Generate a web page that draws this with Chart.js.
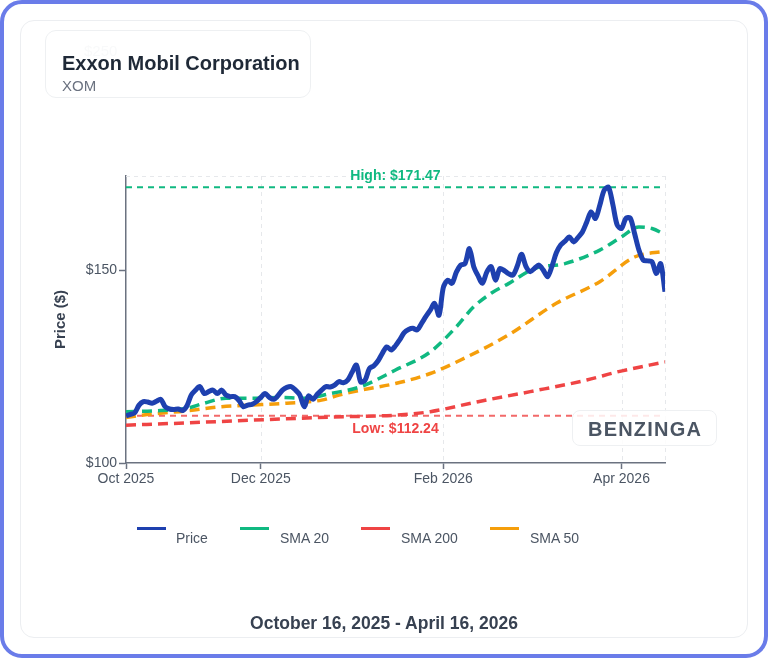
<!DOCTYPE html>
<html>
<head>
<meta charset="utf-8">
<script src="https://cdn.jsdelivr.net/npm/chart.js@4.4.1/dist/chart.umd.min.js"></script>
<style>
  html, body { margin: 0; padding: 0; background: #fff; }
  body { width: 768px; height: 658px; position: relative; overflow: hidden; font-family: "Liberation Sans", Arial, sans-serif; }
  .frame { position: absolute; left: 0; top: 0; width: 760px; height: 650px; border: 4px solid #6a7ce9; border-radius: 22px; }
  .card { position: absolute; left: 20px; top: 20px; width: 726px; height: 616px; border: 1px solid #eceef1; border-radius: 14px; }
  #chart { position: absolute; left: 0; top: 0; }
  .ghost { position: absolute; left: 84px; top: 42px; font-size: 15px; color: #eef0f2; }
  .head { position: absolute; left: 45px; top: 30px; width: 264px; height: 66px; border: 1px solid #eef0f2; border-radius: 11px; background: rgba(255,255,255,0.6); }
  .head .t { position: absolute; left: 16px; top: 21px; font-size: 20px; font-weight: bold; color: #1f2937; white-space: nowrap; }
  .head .s { position: absolute; left: 16px; top: 46px; font-size: 15px; color: #6b7280; }
  .mark { position: absolute; left: 572px; top: 410px; width: 143px; height: 34px; border: 1px solid #eef0f2; border-radius: 8px; background: rgba(255,255,255,0.85); }
  .mark span { position: absolute; left: 15px; top: 7px; font-size: 20px; font-weight: bold; color: #4b5563; letter-spacing: 1.2px; }
  .legend { position: absolute; top: 522px; left: 0; width: 768px; height: 30px; }
  .legend .item { position: absolute; top: 0; }
  .legend .line { position: absolute; top: 5px; left: 0; width: 29px; height: 3px; }
  .legend .lab { position: absolute; top: 8px; font-size: 14px; color: #4b5563; white-space: nowrap; }
  .foot { position: absolute; left: 0; width: 768px; top: 613px; text-align: center; font-size: 17.5px; font-weight: bold; color: #374151; }
</style>
</head>
<body>
<div class="frame"></div>
<div class="card"></div>
<canvas id="chart" width="768" height="658"></canvas>
<div class="ghost">$250</div>
<div class="head"><div class="t">Exxon Mobil Corporation</div><div class="s">XOM</div></div>
<div class="mark"><span>BENZINGA</span></div>
<div class="legend" id="legend"></div>
<div class="foot">October 16, 2025 - April 16, 2026</div>

<script>
// trading day index 0 = Oct 16 2025, 124 = Apr 16 2026
var tickDays = [0, 31, 73, 114];
var tickLabels = ["Oct 2025", "Dec 2025", "Feb 2026", "Apr 2026"];

var price = [
  112.24, 112.6, 113.0, 115.0, 115.9, 115.8, 115.5, 116.0, 116.5, 114.6,
  114.0, 113.9, 114.0, 113.6, 114.8, 117.6, 118.9, 119.8, 118.0, 118.5,
  118.9, 118.0, 118.9, 117.6, 117.2, 117.2, 116.2, 114.6, 115.0, 115.2,
  115.9, 117.0, 118.0, 117.0, 116.5, 117.5, 118.9, 119.6, 119.8, 118.9,
  117.6, 114.6, 117.4, 116.5, 117.8, 118.9, 119.8, 119.7, 120.2, 121.1,
  120.8, 121.5, 123.5, 125.4, 121.0, 121.5, 124.5, 125.2, 126.5, 128.5,
  130.1, 129.3, 130.4, 132.0, 133.8, 134.6, 134.9, 134.5, 136.2, 138.0,
  139.6, 141.4, 138.3, 145.5, 147.4, 146.6, 149.5, 151.3, 151.7, 155.6,
  150.9, 148.5, 146.6, 149.5, 150.9, 147.4, 150.4, 149.9, 149.1, 148.7,
  151.0, 154.1, 151.0, 149.6, 150.5, 151.3, 150.0, 148.3, 151.0, 154.5,
  156.5, 157.5, 158.6, 157.3, 158.5, 159.9, 162.5, 165.1, 163.4, 166.8,
  170.7, 171.47, 167.0, 161.7, 160.8, 163.4, 163.5, 159.5, 155.2, 152.6,
  152.4, 152.2, 149.1, 151.7, 144.4
];

var sma20Days = [0, 6, 14, 18, 23, 29, 35, 41, 47, 54, 62, 70, 76, 80, 84, 88, 94, 101, 109, 114, 118, 121, 124];
var sma20 = [113.3, 113.5, 114.2, 115.5, 116.8, 116.8, 117.0, 116.8, 118.0, 119.8, 124.1, 128.8, 135.3, 140.5, 144.0, 146.5, 150.4, 151.7, 155.2, 158.6, 161.2, 160.8, 159.2];

var sma50Days = [0, 6, 14, 22, 29, 37, 45, 49, 54, 62, 70, 77, 88, 99, 109, 117, 124];
var sma50 = [111.8, 112.7, 113.5, 114.6, 115.0, 115.5, 116.3, 117.6, 118.9, 120.6, 123.2, 126.7, 133.2, 141.4, 147.0, 153.4, 154.9];

var sma200Days = [0, 14, 29, 47, 62, 70, 81, 93, 106, 113, 124];
var sma200 = [109.8, 110.4, 111.1, 111.9, 112.4, 113.3, 115.9, 118.5, 121.5, 123.6, 126.2];

var highValue = 171.47;
var lowValue = 112.24;

var seriesNames = ["Price", "SMA 20", "SMA 200", "SMA 50"];
var seriesColors = ["#1e40af", "#10b981", "#ef4444", "#f59e0b"];

function pts(days, vals) {
  return vals.map(function (v, i) { return { x: days[i], y: v }; });
}
var priceDays = price.map(function (v, i) { return i; });
var lastDay = priceDays[priceDays.length - 1];
var fontFamily = "'Liberation Sans', Arial, sans-serif";

var refLines = {
  id: "refLines",
  beforeDatasetsDraw: function (chart) {
    var ctx = chart.ctx, a = chart.chartArea, x = chart.scales.x;
    ctx.save();
    ctx.strokeStyle = "#e6e8eb";
    ctx.lineWidth = 1;
    ctx.setLineDash([4, 4]);
    ctx.beginPath();
    tickDays.slice(1).forEach(function (d) {
      var px = Math.round(x.getPixelForValue(d)) + 0.5;
      ctx.moveTo(px, a.top); ctx.lineTo(px, a.bottom);
    });
    ctx.moveTo(a.right + 0.5, a.top); ctx.lineTo(a.right + 0.5, a.bottom);
    ctx.moveTo(a.left, a.top + 0.5); ctx.lineTo(a.right, a.top + 0.5);
    ctx.stroke();
    ctx.restore();
  },
  afterDatasetsDraw: function (chart) {
    var ctx = chart.ctx, a = chart.chartArea, y = chart.scales.y;
    var cx = (a.left + a.right) / 2;
    ctx.save();
    ctx.font = "bold 14px " + fontFamily;
    ctx.textAlign = "center";
    ctx.textBaseline = "middle";
    ctx.fillStyle = "#10b981";
    ctx.fillText("High: $" + highValue.toFixed(2), cx, y.getPixelForValue(highValue) - 11);
    ctx.fillStyle = "#ef4444";
    ctx.fillText("Low: $" + lowValue.toFixed(2), cx, y.getPixelForValue(lowValue) + 13);
    ctx.restore();
  }
};

var dashed = [10, 6];

new Chart(document.getElementById("chart"), {
  type: "line",
  data: {
    datasets: [
      { label: "Price", data: pts(priceDays, price), borderColor: seriesColors[0], borderWidth: 5, tension: 0.3, order: 0 },
      { label: "SMA 20", data: pts(sma20Days, sma20), borderColor: seriesColors[1], borderWidth: 3.5, borderDash: dashed, cubicInterpolationMode: "monotone", order: 2 },
      { label: "SMA 200", data: pts(sma200Days, sma200), borderColor: seriesColors[2], borderWidth: 3.5, borderDash: dashed, cubicInterpolationMode: "monotone", order: 4 },
      { label: "SMA 50", data: pts(sma50Days, sma50), borderColor: seriesColors[3], borderWidth: 3.5, borderDash: dashed, cubicInterpolationMode: "monotone", order: 3 },
      { label: "High", data: pts([0, lastDay], [highValue, highValue]), borderColor: "#10b981", borderWidth: 2, borderDash: [6, 5], order: 5 },
      { label: "Low", data: pts([0, lastDay], [lowValue, lowValue]), borderColor: "rgba(239,68,68,0.8)", borderWidth: 2, borderDash: [6, 5], order: 6 }
    ]
  },
  options: {
    responsive: false,
    animation: false,
    layout: { padding: { left: 52, top: 176, right: 103, bottom: 165 } },
    elements: { point: { radius: 0 } },
    plugins: { legend: { display: false }, tooltip: { enabled: false } },
    scales: {
      x: {
        type: "linear",
        min: 0,
        max: lastDay,
        afterBuildTicks: function (s) { s.ticks = tickDays.map(function (d) { return { value: d }; }); },
        afterFit: function (s) { s.height = 30; },
        ticks: {
          padding: 2,
          color: "#4b5563",
          font: { size: 14, family: fontFamily },
          maxRotation: 0,
          autoSkip: false,
          callback: function (v) { return tickLabels[tickDays.indexOf(v)]; }
        },
        grid: { drawOnChartArea: false, tickLength: 6, tickColor: "#6b7280", tickWidth: 1.5 },
        border: { color: "#6b7280", width: 1.5 }
      },
      y: {
        min: 100,
        max: 174.4,
        afterBuildTicks: function (s) { s.ticks = [{ value: 100 }, { value: 150 }]; },
        afterFit: function (s) { s.width = 74; },
        ticks: {
          padding: 2,
          color: "#4b5563",
          font: { size: 14, family: fontFamily },
          callback: function (v) { return "$" + v; }
        },
        grid: { drawOnChartArea: false, tickLength: 7, tickColor: "#6b7280", tickWidth: 1.5 },
        border: { color: "#6b7280", width: 1.5 },
        title: {
          display: true,
          text: "Price ($)",
          color: "#374151",
          font: { size: 15, weight: "bold", family: fontFamily },
          padding: 0
        }
      }
    }
  },
  plugins: [refLines]
});

// legend
var legendX = [137, 240, 361, 490];
var legend = document.getElementById("legend");
seriesNames.forEach(function (name, i) {
  var item = document.createElement("div");
  item.className = "item";
  item.style.left = legendX[i] + "px";
  item.innerHTML = '<div class="line" style="background:' + seriesColors[i] + '"></div>' +
    '<div class="lab" style="left:' + (i === 0 ? 39 : 40) + 'px">' + name + '</div>';
  legend.appendChild(item);
});
</script>
</body>
</html>
